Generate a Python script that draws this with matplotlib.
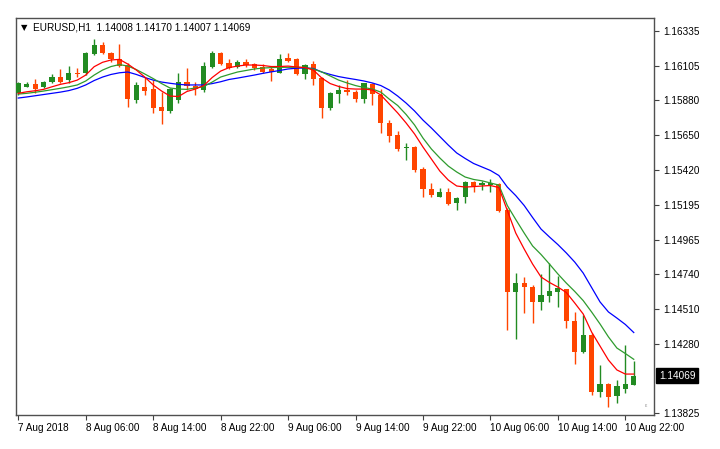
import numpy as np
import matplotlib.pyplot as plt
from matplotlib.transforms import blended_transform_factory

plt.rcParams['font.family'] = ['Liberation Sans', 'DejaVu Sans']

# EURUSD H1, 7 Aug 22:00 .. 10 Aug 23:00
opens = [1.15930, 1.15969, 1.15985, 1.15965, 1.16000, 1.16035, 1.16013, 1.16057, 1.16061, 1.16182,
         1.16243, 1.16193, 1.16149, 1.16112, 1.15882, 1.15969, 1.15952, 1.15838, 1.15813, 1.15882,
         1.16002, 1.15974, 1.15948, 1.16097, 1.16189, 1.16123, 1.16097, 1.16134, 1.16117, 1.16101,
         1.16084, 1.16061, 1.16156, 1.16149, 1.16053, 1.16118, 1.16025, 1.15827, 1.15921, 1.15948,
         1.15936, 1.15887, 1.15987, 1.15914, 1.15733, 1.15652, 1.15566, 1.15575, 1.15427, 1.15295,
         1.15247, 1.15279, 1.15203, 1.15243, 1.15341, 1.15323, 1.15323, 1.15331, 1.15159, 1.14622,
         1.14681, 1.14655, 1.14557, 1.14596, 1.14622, 1.14638, 1.14432, 1.14228, 1.14338, 1.13965,
         1.14016, 1.13937, 1.13981, 1.14008]
highs = [1.16002, 1.16002, 1.16018, 1.16009, 1.16051, 1.16084, 1.16105, 1.16090, 1.16199, 1.16281,
         1.16265, 1.16199, 1.16250, 1.16123, 1.16002, 1.16035, 1.16013, 1.15936, 1.15959, 1.16061,
         1.16090, 1.16002, 1.16134, 1.16204, 1.16199, 1.16149, 1.16145, 1.16149, 1.16123, 1.16118,
         1.16101, 1.16184, 1.16193, 1.16156, 1.16118, 1.16140, 1.16031, 1.15936, 1.15981, 1.16013,
         1.15948, 1.15996, 1.15992, 1.15952, 1.15750, 1.15680, 1.15601, 1.15582, 1.15444, 1.15335,
         1.15302, 1.15302, 1.15247, 1.15352, 1.15352, 1.15352, 1.15361, 1.15335, 1.15170, 1.14743,
         1.14717, 1.14666, 1.14739, 1.14813, 1.14725, 1.14640, 1.14491, 1.14469, 1.14349, 1.14141,
         1.14020, 1.14042, 1.14272, 1.14170]
lows = [1.15915, 1.15965, 1.15930, 1.15959, 1.15992, 1.15992, 1.15996, 1.16035, 1.16046, 1.16178,
        1.16184, 1.16134, 1.16101, 1.15834, 1.15860, 1.15915, 1.15799, 1.15724, 1.15799, 1.15864,
        1.15948, 1.15915, 1.15936, 1.16090, 1.16112, 1.16084, 1.16090, 1.16101, 1.16079, 1.16057,
        1.16009, 1.16057, 1.16134, 1.16046, 1.16018, 1.15981, 1.15762, 1.15816, 1.15860, 1.15915,
        1.15871, 1.15864, 1.15849, 1.15663, 1.15608, 1.15549, 1.15488, 1.15411, 1.15247, 1.15247,
        1.15243, 1.15192, 1.15159, 1.15203, 1.15279, 1.15290, 1.15279, 1.15148, 1.14371, 1.14310,
        1.14484, 1.14419, 1.14502, 1.14557, 1.14524, 1.14382, 1.14147, 1.14221, 1.13944, 1.13928,
        1.13867, 1.13889, 1.13959, 1.14007]
closes = [1.15996, 1.15987, 1.15952, 1.16002, 1.16035, 1.16002, 1.16061, 1.16051, 1.16193, 1.16243,
          1.16189, 1.16149, 1.16105, 1.15887, 1.15981, 1.15943, 1.15827, 1.15813, 1.15952, 1.16002,
          1.15974, 1.15952, 1.16105, 1.16193, 1.16117, 1.16090, 1.16134, 1.16112, 1.16090, 1.16068,
          1.16068, 1.16149, 1.16140, 1.16053, 1.16112, 1.16018, 1.15827, 1.15930, 1.15948, 1.15936,
          1.15887, 1.15992, 1.15921, 1.15733, 1.15645, 1.15558, 1.15575, 1.15422, 1.15295, 1.15258,
          1.15279, 1.15199, 1.15236, 1.15341, 1.15317, 1.15335, 1.15335, 1.15155, 1.14622, 1.14681,
          1.14651, 1.14557, 1.14601, 1.14627, 1.14645, 1.14432, 1.14228, 1.14338, 1.13965, 1.14016,
          1.13928, 1.14001, 1.14014, 1.14069]

# moving averages
ma_fast = [1.15926, 1.15936, 1.15943, 1.15952, 1.15969, 1.15985, 1.15996, 1.16013, 1.16046, 1.16101,
           1.16130, 1.16145, 1.16149, 1.16118, 1.16079, 1.16033, 1.15981, 1.15941, 1.15908, 1.15905,
           1.15938, 1.15954, 1.15977, 1.16030, 1.16072, 1.16095, 1.16105, 1.16112, 1.16112, 1.16109,
           1.16102, 1.16102, 1.16105, 1.16099, 1.16095, 1.16079, 1.16026, 1.15990, 1.15971, 1.15957,
           1.15954, 1.15954, 1.15948, 1.15915, 1.15856, 1.15797, 1.15731, 1.15659, 1.15573, 1.15494,
           1.15415, 1.15356, 1.15317, 1.15310, 1.15313, 1.15317, 1.15320, 1.15307, 1.15156, 1.15008,
           1.14903, 1.14804, 1.14719, 1.14683, 1.14653, 1.14617, 1.14548, 1.14476, 1.14357, 1.14265,
           1.14173, 1.14108, 1.14081, 1.14081]
ma_mid = [1.15921, 1.15926, 1.15933, 1.15941, 1.15950, 1.15959, 1.15969, 1.15981, 1.16007, 1.16046,
          1.16079, 1.16102, 1.16115, 1.16105, 1.16082, 1.16053, 1.16023, 1.15990, 1.15961, 1.15954,
          1.15952, 1.15961, 1.15971, 1.16000, 1.16033, 1.16050, 1.16066, 1.16076, 1.16086, 1.16092,
          1.16095, 1.16097, 1.16097, 1.16097, 1.16095, 1.16086, 1.16066, 1.16040, 1.16013, 1.15994,
          1.15977, 1.15964, 1.15954, 1.15934, 1.15888, 1.15846, 1.15787, 1.15718, 1.15632, 1.15560,
          1.15501, 1.15448, 1.15409, 1.15376, 1.15360, 1.15351, 1.15337, 1.15323, 1.15189, 1.15097,
          1.15008, 1.14923, 1.14867, 1.14804, 1.14739, 1.14679, 1.14624, 1.14564, 1.14489, 1.14410,
          1.14325, 1.14252, 1.14216, 1.14178]
ma_slow = [1.15895, 1.15902, 1.15910, 1.15918, 1.15926, 1.15934, 1.15944, 1.15959, 1.15981, 1.16010,
           1.16033, 1.16050, 1.16061, 1.16066, 1.16050, 1.16030, 1.16013, 1.16000, 1.15992, 1.15985,
           1.15981, 1.15981, 1.15981, 1.15990, 1.16002, 1.16017, 1.16026, 1.16036, 1.16046, 1.16057,
           1.16067, 1.16076, 1.16086, 1.16091, 1.16093, 1.16089, 1.16066, 1.16050, 1.16036, 1.16026,
           1.16017, 1.16007, 1.15994, 1.15977, 1.15948, 1.15908, 1.15862, 1.15810, 1.15750, 1.15698,
           1.15642, 1.15586, 1.15534, 1.15498, 1.15465, 1.15442, 1.15419, 1.15386, 1.15310, 1.15254,
           1.15189, 1.15110, 1.15034, 1.14982, 1.14932, 1.14877, 1.14817, 1.14745, 1.14650, 1.14555,
           1.14489, 1.14449, 1.14407, 1.14354]

time_labels = ["7 Aug 2018", "8 Aug 06:00", "8 Aug 14:00", "8 Aug 22:00", "9 Aug 06:00",
               "9 Aug 14:00", "9 Aug 22:00", "10 Aug 06:00", "10 Aug 14:00", "10 Aug 22:00"]
price_ticks = [1.16335, 1.16105, 1.15880, 1.15650, 1.15420, 1.15195,
               1.14965, 1.14740, 1.14510, 1.14280, 1.13825]

o = np.array(opens)
h = np.array(highs)
l = np.array(lows)
c = np.array(closes)
x = np.arange(len(o))
up = c >= o
colors = np.where(up, "#228B22", "#FF4500")

fig = plt.figure(figsize=(7.2, 4.49), dpi=100)
ax = fig.add_axes([16 / 720, 1 - 415 / 449, 638 / 720, 397 / 449])

# candles
ax.vlines(x, l, h, colors=colors, linewidth=1, zorder=2)
body_lo = np.minimum(o, c)
body_h = np.maximum(np.abs(c - o), 0.00004)
ax.bar(x, body_h, bottom=body_lo, width=0.62, color=colors, linewidth=0, zorder=3)

# moving averages
ax.plot(x, ma_slow, color="#0000FF", linewidth=0.9, zorder=4)
ax.plot(x, ma_mid, color="#2E9B2E", linewidth=0.9, zorder=4)
ax.plot(x, ma_fast, color="#FF0000", linewidth=0.9, zorder=4)

ax.set_xlim(-0.27, 75.4)
ax.set_ylim(1.13812, 1.16421)

ax.yaxis.tick_right()
ax.set_yticks(price_ticks)
ax.set_yticklabels([f"{p:.5f}" for p in price_ticks])
ax.set_xticks(x[::8])
ax.set_xticklabels(time_labels, ha="left")
ax.tick_params(axis="both", direction="out", length=3.5, width=0.8, color="#404040",
               labelsize=7.2, labelcolor="black")
ax.tick_params(axis="y", pad=3.5)
ax.tick_params(axis="x", pad=2.5)

for side in ["top", "left", "right", "bottom"]:
    ax.spines[side].set_color("#505050")
    ax.spines[side].set_linewidth(1)

# current price box
tr = blended_transform_factory(ax.transAxes, ax.transData)
ax.text(1.0078, c[-1], f"{c[-1]:.5f}", transform=tr, ha="left", va="center",
        fontsize=7.2, color="white",
        bbox=dict(boxstyle="square,pad=0.25", facecolor="black", edgecolor="black"))

# header
fig.text(21 / 720, 1 - 28 / 449, "\u25BC", fontsize=6, va="center", ha="left",
         family=["DejaVu Sans"])
fig.text(33 / 720, 1 - 28 / 449,
         f"EURUSD,H1  {o[-1]:.5f} {h[-1]:.5f} {l[-1]:.5f} {c[-1]:.5f}",
         fontsize=7.2, va="center", ha="left")

# shift marker
ax.text(0.987, 0.025, "\u03B5", transform=ax.transAxes, fontsize=4, color="#909090",
        ha="center", va="center")

fig.savefig("out.png", dpi=100)
